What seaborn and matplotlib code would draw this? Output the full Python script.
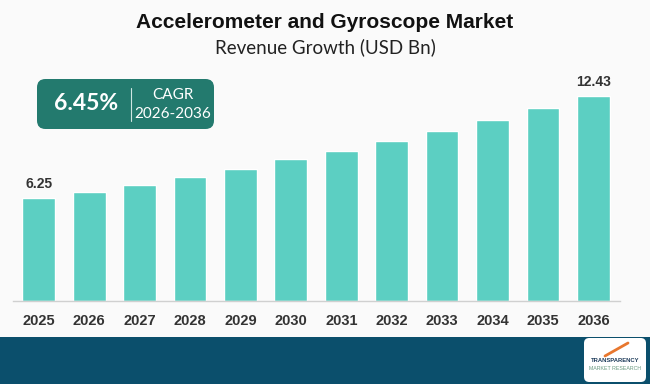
import matplotlib
matplotlib.use("Agg")
import matplotlib.pyplot as plt
import seaborn as sns
import pandas as pd
from matplotlib.patches import FancyBboxPatch, Rectangle

# data
years = ["2025", "2026", "2027", "2028", "2029", "2030",
         "2031", "2032", "2033", "2034", "2035", "2036"]
revenue = [6.25, 6.62, 7.04, 7.52, 8.01, 8.61,
           9.10, 9.70, 10.31, 10.97, 11.70, 12.43]
shown_labels = {"2025": "6.25", "2036": "12.43"}
cagr_value = "6.45%"
cagr_period = "2026-2036"

BG = "#fafafa"
BAR = "#5ccfc2"
BAND = "#0b4f6c"
BOX = "#237a6e"
TXT = "#333333"

sns.set_theme(style="white")
plt.rcParams["font.family"] = ["Liberation Sans", "DejaVu Sans"]

df = pd.DataFrame({"Year": years, "Revenue": revenue})

fig = plt.figure(figsize=(6.5, 3.84), dpi=100, facecolor=BG)
ax = fig.add_axes([0.02, 0.2154, 0.934, 0.628])
ax.set_facecolor(BG)

sns.barplot(data=df, x="Year", y="Revenue", color=BAR, width=0.65,
            saturation=1, ax=ax)

ax.set_xlim(-0.51, 11.53)
ax.set_ylim(0, 14.6)
ax.set_xlabel("")
ax.set_ylabel("")
ax.set_yticks([])
for s in ["top", "right", "left"]:
    ax.spines[s].set_visible(False)
ax.spines["bottom"].set_color("#d0d0d0")
ax.spines["bottom"].set_linewidth(1)
ax.tick_params(axis="x", length=0, pad=9)
for lbl in ax.get_xticklabels():
    lbl.set_fontweight("bold")
    lbl.set_fontsize(10.5)
    lbl.set_color(TXT)

# value labels on first and last bar
for i, (yr, val) in enumerate(zip(years, revenue)):
    if yr in shown_labels:
        ax.text(i, val + 0.45, shown_labels[yr], ha="center", va="bottom",
                fontsize=10, fontweight="bold", color=TXT)

# titles
fig.text(0.5, 0.942, "Accelerometer and Gyroscope Market", ha="center",
         va="center", fontsize=15, fontweight="bold", color="#111111")
fig.text(0.5, 0.878, "Revenue Growth (USD Bn)", ha="center", va="center",
         fontsize=13.5, color="#222222", family=["Lato", "DejaVu Sans"])

# CAGR box
W, H = 650, 384
def fx(px):
    return px / W
def fy(py):
    return 1 - py / H

box = FancyBboxPatch((fx(37), fy(129)), fx(214) - fx(37), fy(79) - fy(129),
                     boxstyle="round,pad=0,rounding_size=0.013",
                     transform=fig.transFigure, facecolor=BOX,
                     edgecolor="none", mutation_aspect=W / H)
fig.add_artist(box)
fig.text(fx(86), fy(104), cagr_value, ha="center", va="center",
         fontsize=16.5, fontweight="bold", color="white",
         family=["Lato", "DejaVu Sans"])
fig.add_artist(plt.Line2D([fx(131), fx(131)], [fy(88), fy(121)],
                          transform=fig.transFigure, color="#cfe6e2", lw=0.8))
fig.text(fx(173), fy(95), "CAGR", ha="center", va="center", fontsize=11,
         color="white", family=["Lato", "DejaVu Sans"])
fig.text(fx(173), fy(114), cagr_period, ha="center", va="center",
         fontsize=11, color="white", family=["Lato", "DejaVu Sans"])

# bottom band and logo
fig.add_artist(Rectangle((0, 0), 1, fy(337), transform=fig.transFigure,
                         facecolor=BAND, edgecolor="none"))
logo = FancyBboxPatch((fx(584), fy(382)), fx(646) - fx(584), fy(338) - fy(382),
                      boxstyle="round,pad=0,rounding_size=0.008",
                      transform=fig.transFigure, facecolor="white",
                      edgecolor="none", mutation_aspect=W / H)
fig.add_artist(logo)
fig.text(fx(615), fy(361), "TRANSPARENCY", ha="center", va="center",
         fontsize=4.2, fontweight="bold", color="#1d3b5a")
fig.text(fx(615), fy(368), "MARKET RESEARCH", ha="center", va="center",
         fontsize=3.8, color="#6a9a80")
fig.add_artist(plt.Line2D([fx(605), fx(628)], [fy(356), fy(343)],
                          transform=fig.transFigure, color="#e8772e", lw=2))

fig.savefig("out.png", dpi=100, facecolor=BG)
